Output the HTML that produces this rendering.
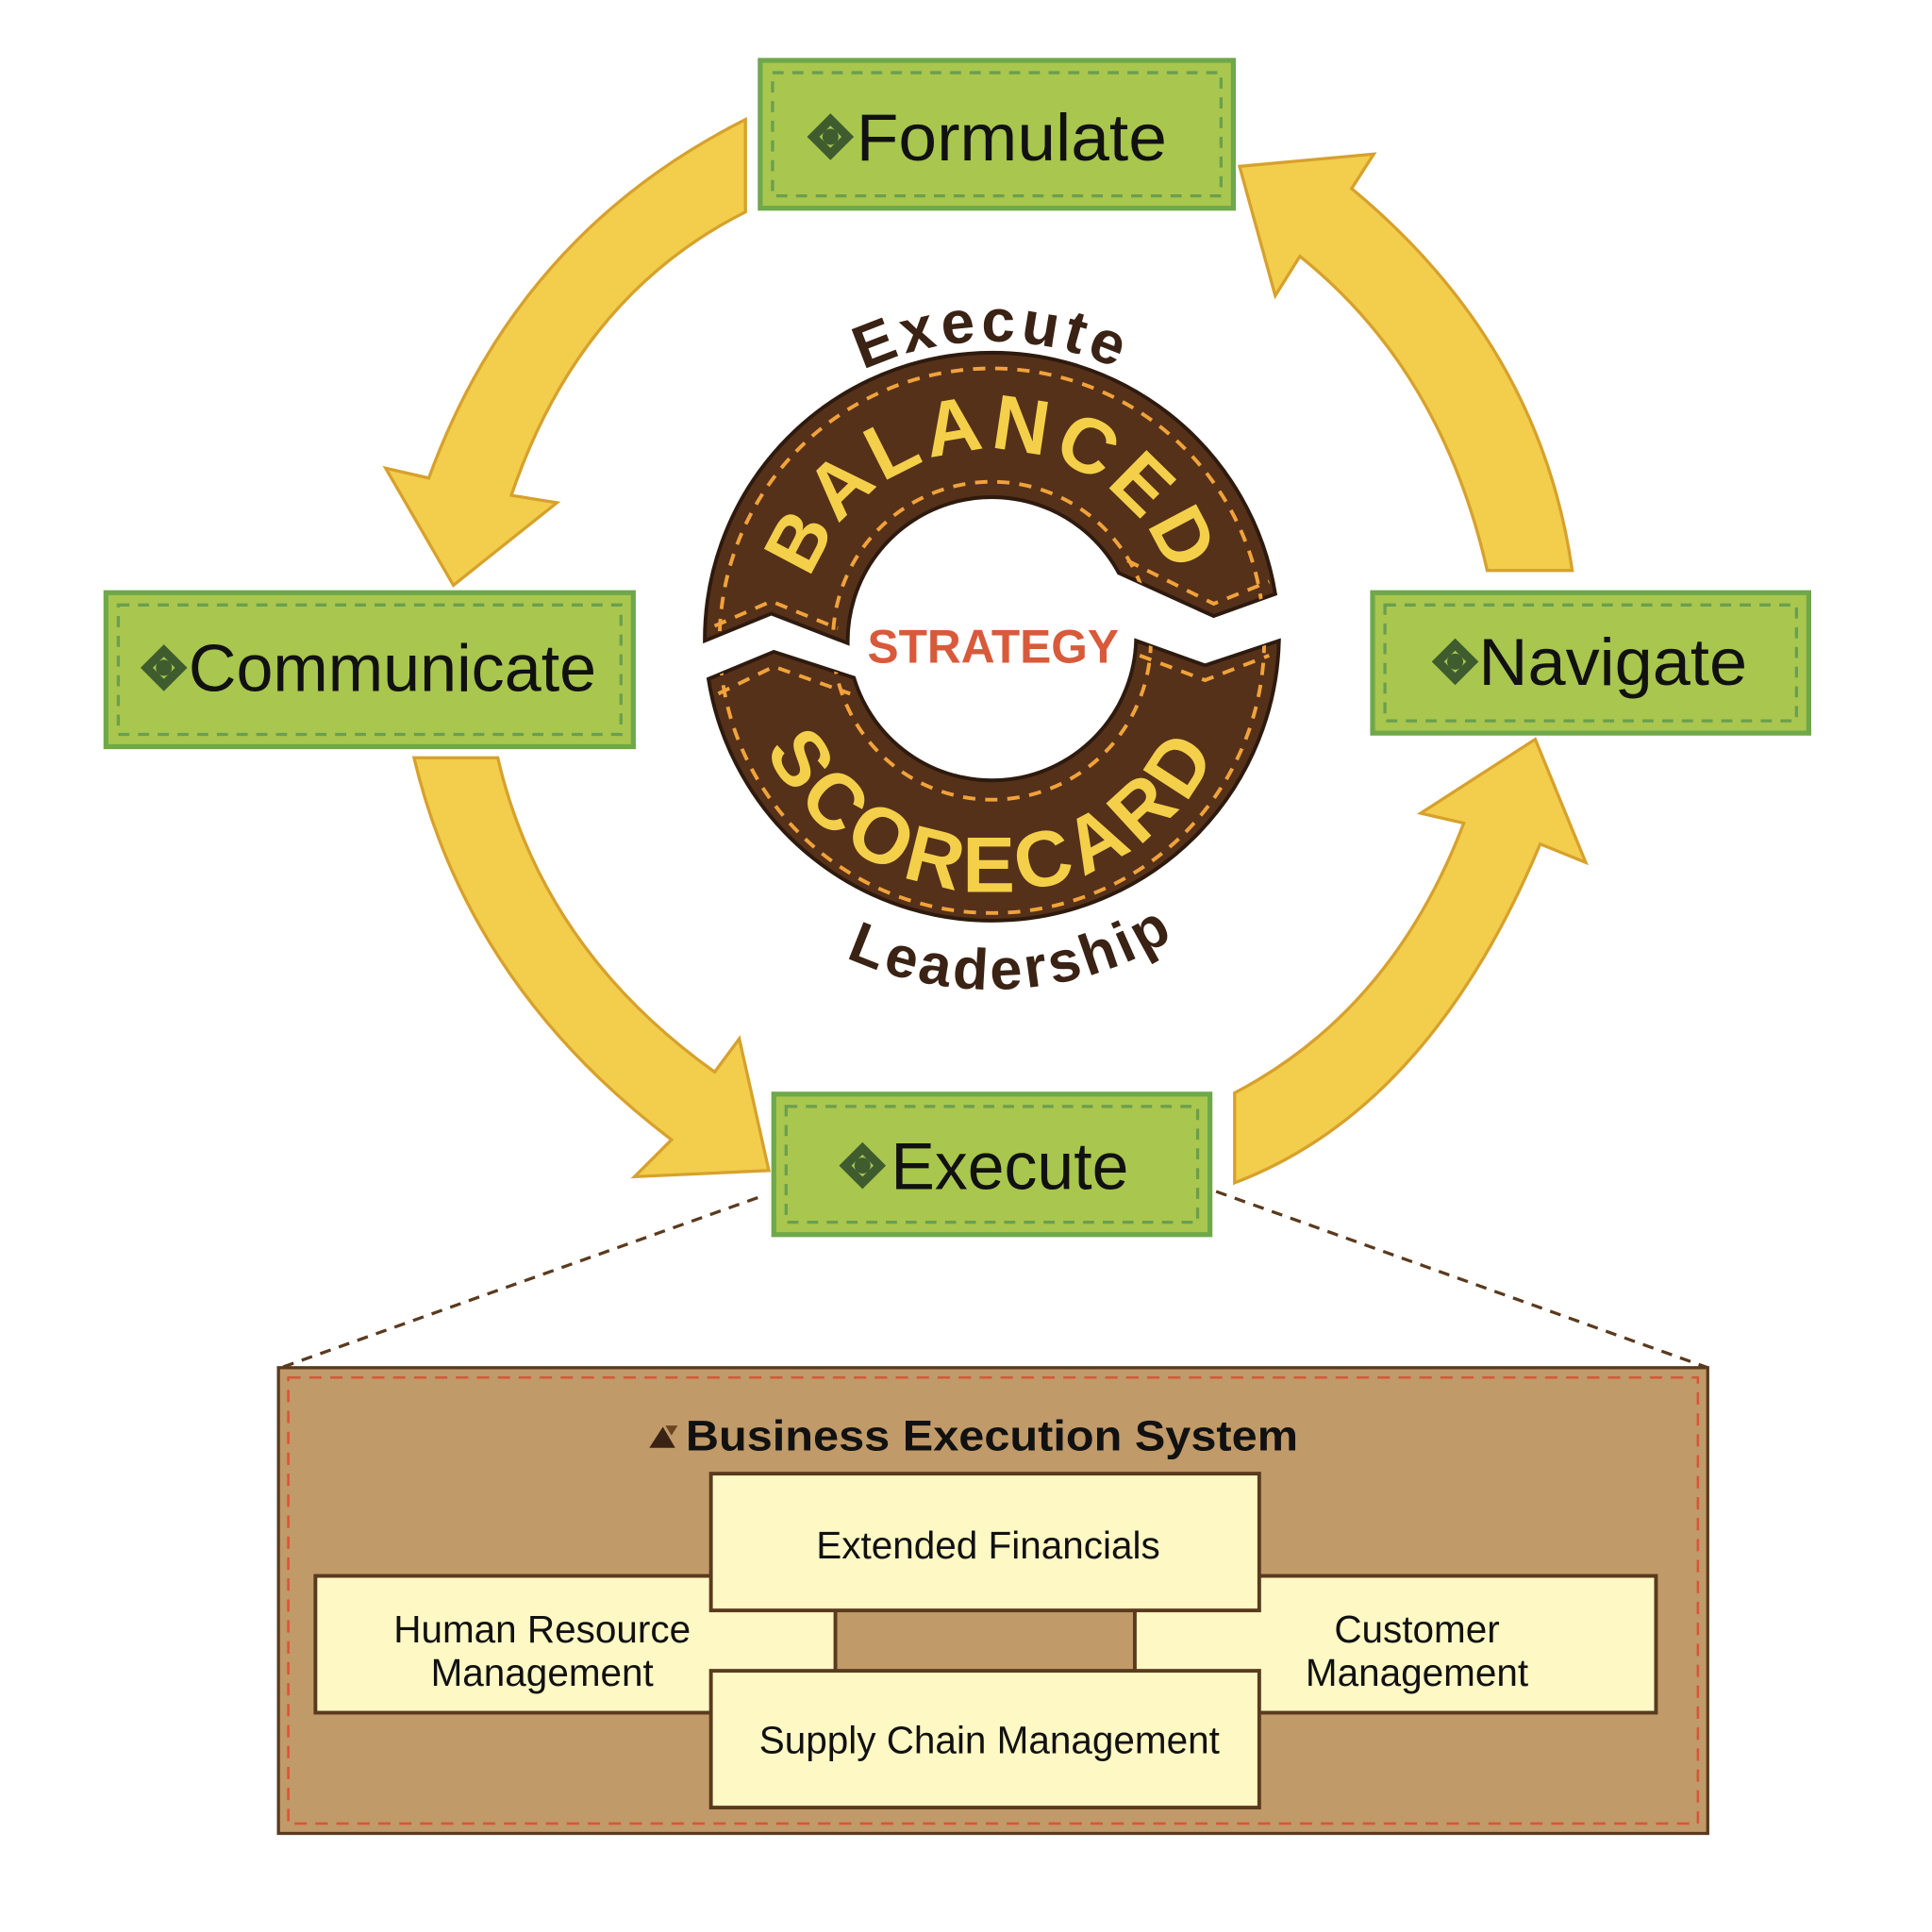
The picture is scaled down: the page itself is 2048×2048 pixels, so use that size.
<!DOCTYPE html>
<html><head><meta charset="utf-8"><style>html,body{margin:0;padding:0;background:#fff}svg{display:block}</style></head>
<body>
<svg width="2048" height="2048" viewBox="0 0 1568 1568" xmlns="http://www.w3.org/2000/svg">
<defs>
<path id="topP" d="M572,520 A233,233 0 0 1 1035,482 L985,500 L908,465 A117,117 0 0 0 688,522 L626,498 Z"/>
<path id="botP" d="M575,551 L628,529 L693,550 A117,117 0 0 0 922,520 L978,540 L1038,520 A233,233 0 0 1 575,551 Z"/>
<clipPath id="ct"><use href="#topP"/></clipPath>
<clipPath id="cb"><use href="#botP"/></clipPath>
<path id="balP" d="M650,520 A155,155 0 0 1 960,520"/>
<path id="scoP" d="M601,520 A204,204 0 0 0 1009,520"/>
<path id="exeP" d="M562,520 A243,243 0 0 1 1048,520"/>
<path id="leaP" d="M522,520 A283,283 0 0 0 1088,520"/>
<g id="ico"><polygon points="0,-19 19,0 0,19 -19,0" fill="#3f5c2f"/><polygon points="0,-9 9,0 0,9 -9,0" fill="#a9c64e"/><circle r="6.5" fill="#3f5c2f"/></g>
</defs>

<g fill="#f3cd4c" stroke="#d6a12c" stroke-width="2.5" stroke-linejoin="miter">
<path d="M605,97 Q420,190 348,388 L313,380 L368,475 L452,408 L415,402 Q470,240 605,172 Z"/>
<path d="M404,615 Q440,770 580,870 L600,843 L624,950 L515,955 L545,925 Q380,800 336,615 Z"/>
<path d="M1002,887 Q1130,820 1188,668 L1153,660 L1246,600 L1287,700 L1250,685 Q1160,900 1002,960 Z"/>
<path d="M1276,463 Q1250,280 1097,153 L1115,125 L1006,135 L1035,240 L1055,208 Q1170,300 1207,463 Z"/>
</g>

<use href="#topP" fill="#55311a" stroke="#2e1a0e" stroke-width="3"/>
<use href="#botP" fill="#55311a" stroke="#2e1a0e" stroke-width="3"/>
<g fill="none" stroke="#f1a33a" stroke-width="3" stroke-dasharray="10,8">
<g clip-path="url(#ct)">
<circle cx="805" cy="520" r="221"/><circle cx="805" cy="520" r="129"/>
<polyline points="580,508 626,488 680,510"/>
<polyline points="915,455 985,490 1030,472"/>
</g>
<g clip-path="url(#cb)">
<circle cx="805" cy="520" r="221"/><circle cx="805" cy="520" r="129"/>
<polyline points="583,563 628,541 690,563"/>
<polyline points="925,532 978,552 1030,532"/>
</g>
</g>
<g font-family="Liberation Sans, sans-serif" font-weight="bold">
<text font-size="63" fill="#f4d04a" letter-spacing="4"><textPath href="#balP" startOffset="50%" text-anchor="middle">BALANCED</textPath></text>
<text font-size="64" fill="#f4d04a" letter-spacing="5"><textPath href="#scoP" startOffset="50%" text-anchor="middle">SCORECARD</textPath></text>
<text font-size="49" fill="#3a2214" letter-spacing="4"><textPath href="#exeP" startOffset="50%" text-anchor="middle">Execute</textPath></text>
<text font-size="47" fill="#3a2214" letter-spacing="3"><textPath href="#leaP" startOffset="52%" text-anchor="middle">Leadership</textPath></text>
<text x="806" y="538" font-size="38" fill="#d85a3b" text-anchor="middle">STRATEGY</text>
</g>

<g fill="#a9c64e" stroke="#6ea84a" stroke-width="4">
<rect x="617" y="49" width="384" height="120"/>
<rect x="86" y="481" width="428" height="125"/>
<rect x="1114" y="481" width="354" height="114"/>
<rect x="628" y="888" width="354" height="114"/>
</g>
<g fill="none" stroke="#6a9f4e" stroke-width="2.5" stroke-dasharray="9,7">
<rect x="627" y="59" width="364" height="100"/>
<rect x="96" y="491" width="408" height="105"/>
<rect x="1124" y="491" width="334" height="94"/>
<rect x="638" y="898" width="334" height="94"/>
</g>
<use href="#ico" x="674" y="111"/>
<use href="#ico" x="133" y="542"/>
<use href="#ico" x="1181" y="537"/>
<use href="#ico" x="700" y="946"/>
<g font-family="Liberation Sans, sans-serif" font-size="54" fill="#111">
<text x="695" y="130" textLength="252" lengthAdjust="spacingAndGlyphs">Formulate</text>
<text x="153" y="561" textLength="331" lengthAdjust="spacingAndGlyphs">Communicate</text>
<text x="1200" y="556" textLength="218" lengthAdjust="spacingAndGlyphs">Navigate</text>
<text x="723" y="965" textLength="193" lengthAdjust="spacingAndGlyphs">Execute</text>
</g>

<g stroke="#5a3a1e" stroke-width="2.5" stroke-dasharray="9,7" fill="none">
<line x1="615" y1="972" x2="228" y2="1110"/>
<line x1="987" y1="967" x2="1386" y2="1110"/>
</g>

<rect x="226" y="1110" width="1160" height="378" fill="#c09a68" stroke="#5a3a1e" stroke-width="2.5"/>
<rect x="234" y="1118" width="1144" height="362" fill="none" stroke="#d9553a" stroke-width="2" stroke-dasharray="10,7"/>
<polygon points="527,1175 538,1158 548,1175" fill="#3a2214"/>
<polygon points="540,1157 550,1157 545,1165" fill="#6b4423"/>
<text x="805" y="1177" font-family="Liberation Sans, sans-serif" font-weight="bold" font-size="35" fill="#111" text-anchor="middle" textLength="497" lengthAdjust="spacingAndGlyphs">Business Execution System</text>
<g fill="#fef8c4" stroke="#5a3a1e" stroke-width="3">
<rect x="256" y="1279" width="422" height="111"/>
<rect x="921" y="1279" width="423" height="111"/>
<rect x="577" y="1196" width="445" height="111"/>
<rect x="577" y="1356" width="445" height="111"/>
</g>
<g font-family="Liberation Sans, sans-serif" font-size="31" fill="#111" text-anchor="middle">
<text x="802" y="1265">Extended Financials</text>
<text x="440" y="1333">Human Resource</text>
<text x="440" y="1368">Management</text>
<text x="1150" y="1333">Customer</text>
<text x="1150" y="1368">Management</text>
<text x="803" y="1423">Supply Chain Management</text>
</g>
</svg>
</body></html>
